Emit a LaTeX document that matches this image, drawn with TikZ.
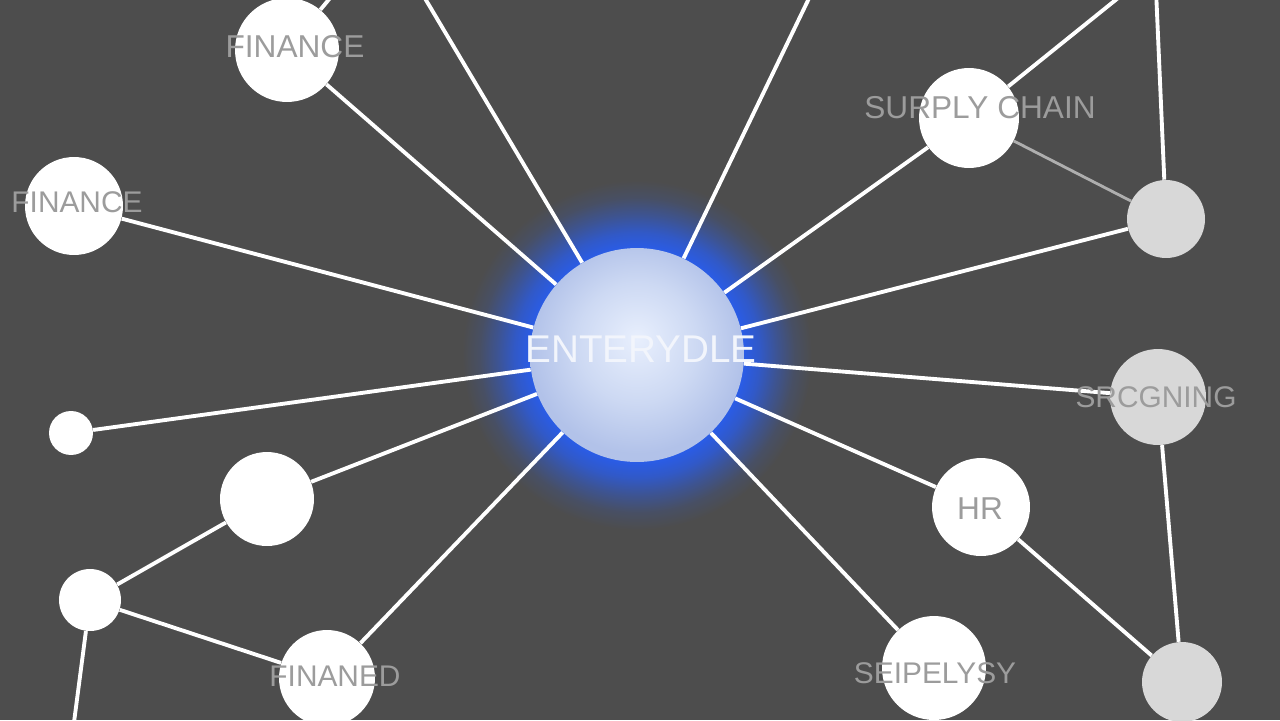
\documentclass[tikz,border=0pt]{standalone}
\usepackage{fontspec}
\setmainfont{Liberation Sans}
\usetikzlibrary{positioning}

\definecolor{bgc}{HTML}{4D4D4D}
\definecolor{lblgray}{HTML}{9C9C9C}
\definecolor{nodegray}{HTML}{D8D8D8}
\definecolor{glowblue}{HTML}{2A5CE6}
\definecolor{ballhi}{HTML}{E8EFFD}
\definecolor{ballmid}{HTML}{CDD9F3}
\definecolor{ballrim}{HTML}{B2C2E9}
\definecolor{enttext}{HTML}{F2F5FC}

\pgfdeclareradialshading{entglow}{\pgfpoint{0bp}{0bp}}{color(0bp)=(glowblue); color(15.3bp)=(glowblue); color(17.5bp)=(glowblue!80!bgc); color(20bp)=(glowblue!45!bgc); color(22.5bp)=(glowblue!15!bgc); color(25bp)=(bgc); color(50bp)=(bgc)}
\pgfdeclareradialshading{entball}{\pgfpoint{0bp}{4bp}}{color(0bp)=(ballhi); color(14bp)=(ballmid); color(25bp)=(ballrim); color(50bp)=(ballrim)}

\tikzset{
  wnode/.style={circle, fill=white, inner sep=0pt, minimum size={#1*0.04cm}},
  gnode/.style={circle, fill=nodegray, inner sep=0pt, minimum size={#1*0.04cm}},
  hub/.style={circle, shade, shading=entball, inner sep=0pt, minimum size=4.28cm},
  link/.style={white, line width=2.2pt},
  lbl/.style={text=lblgray, inner sep=0pt, font=\fontsize{17}{20}\selectfont},
  biglbl/.style={lbl, font=\fontsize{18}{21}\selectfont}
}

\begin{document}
\begin{tikzpicture}[x=0.02cm, y=-0.02cm]
\useasboundingbox (0,0) rectangle (1280,720);
\fill[bgc] (0,0) rectangle (1280,720);
% glow round the hub
\shade[shading=entglow] (637,355) circle (3.5cm);

\node[hub] (ent) at (637,355) {};
\node[wnode=52] (fin1) at (287,50) {};
\node[wnode=49] (fin2) at (74,206) {};
\node[wnode=22] (dot1) at (71,433) {};
\node[wnode=47] (lft1) at (267,499) {};
\node[wnode=31] (lft2) at (90,600) {};
\node[wnode=48] (fin3) at (327,678) {};
\node[wnode=50] (sup1) at (969,118) {};
\node[gnode=39] (rgt1) at (1166,219) {};
\node[gnode=48] (sig) at (1158,397) {};
\node[wnode=49] (hr) at (981,507) {};
\node[gnode=40] (rgt2) at (1182,682) {};
\node[wnode=52] (sup2) at (934,668) {};

% ends outside the frame
\coordinate (out1) at (345,-20);
\coordinate (out2) at (420,-10);
\coordinate (out3) at (813,-10);
\coordinate (out4) at (1128,-10);
\coordinate (out5) at (1156,-10);
\coordinate (out6) at (73,730);

\foreach \n in {fin1,out2,fin2,dot1,lft1,fin3,out3,sup1,rgt1,sig,hr,sup2}
  \draw[link] (ent) -- (\n);
\draw[link] (fin1) -- (out1);
\draw[link] (lft1) -- (lft2);
\draw[link] (lft2) -- (fin3);
\draw[link] (lft2) -- (out6);
\draw[link] (sup1) -- (out4);
\draw[link] (rgt1) -- (out5);
\draw[link] (sig) -- (rgt2);
\draw[link] (hr) -- (rgt2);
\draw[white, opacity=0.55, line width=1.6pt] (sup1) -- (rgt1);

\node[text=enttext, inner sep=0pt, font=\fontsize{22}{26}\selectfont] (ent-t) at (641,349) {ENTERYDLE};
\node[biglbl] (fin1-t) at (295,47) {FINANCE};
\node[lbl] (fin2-t) at (77,202) {FINANCE};
\node[lbl] (fin3-t) at (335,676) {FINANED};
\node[biglbl] (sup1-t) at (980,108) {SURPLY CHAIN};
\node[lbl] (sig-t) at (1156,397) {SRCGNING};
\node[biglbl] (hr-t) at (980,509) {HR};
\node[lbl] (sup2-t) at (935,673) {SEIPELYSY};
\end{tikzpicture}
\end{document}
